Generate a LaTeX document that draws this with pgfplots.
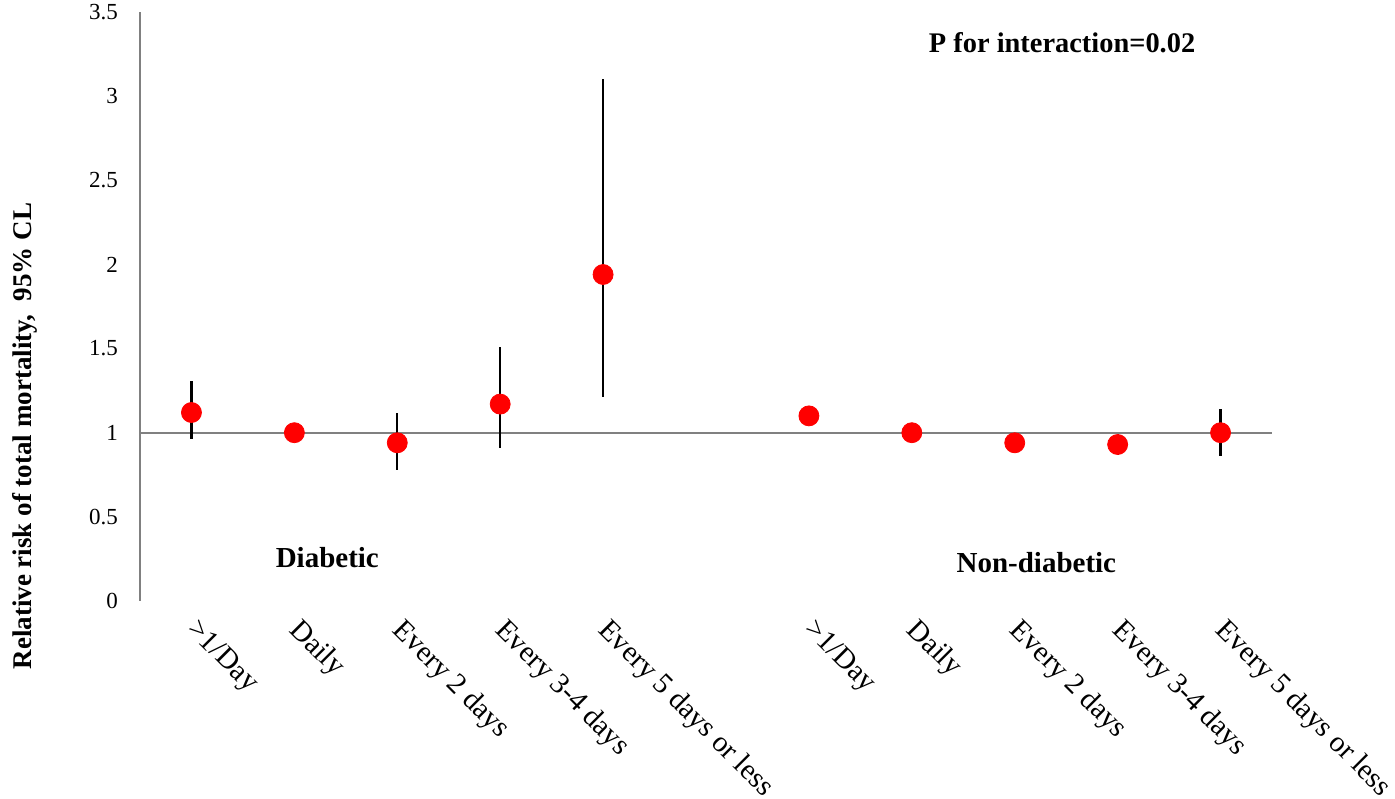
\documentclass[border=0pt]{standalone}
\usepackage{fontspec}
\setmainfont{Liberation Serif}
\usepackage{pgfplots}
\pgfplotsset{compat=1.18}
\usepackage{pgfplotstable}

% x: category position (6 is the gap between groups), y: relative risk,
% ep/em: distance to upper/lower 95% limit
\pgfplotstableread{
x  y     ep    em
1  1.12  0.19  0.16
2  1.00  0.00  0.00
3  0.94  0.18  0.16
4  1.17  0.34  0.26
5  1.94  1.16  0.73
7  1.10  0.05  0.05
8  1.00  0.00  0.00
9  0.94  0.04  0.04
10 0.93  0.06  0.06
11 1.00  0.14  0.14
}\rrdata

\begin{document}
\begin{tikzpicture}
  \begin{axis}[
    name=ax,
    scale only axis,
    width=566pt, height=294.5pt,
    xmin=0.5, xmax=11.5,
    ymin=0, ymax=3.5,
    axis lines*=left,
    x axis line style={draw=none},
    y axis line style={draw=gray, line width=0.8pt},
    major tick length=0pt,
    tick style={draw=none},
    ytick={0,0.5,...,3.5},
    xtick={1,2,3,4,5,7,8,9,10,11},
    xticklabels={>1/Day, Daily, Every 2 days, Every 3-4 days, Every 5 days or less,
                 >1/Day, Daily, Every 2 days, Every 3-4 days, Every 5 days or less},
    % shifts act in the rotated frame of the label
    xticklabel style={rotate=-45, anchor=north west, inner sep=0pt,
                      font=\fontsize{14.6}{16}\selectfont, yshift=-2.4pt, xshift=8.4pt},
    yticklabel style={/pgf/number format/assume math mode=true,
                      font=\fontsize{11.5}{12}\selectfont, xshift=-7.5pt},
    ylabel={Relative risk of total mortality,\ \ 95\% CL},
    every axis y label/.style={at={(axis description cs:-0.102,0.28)},
                      rotate=90, anchor=center,
                      font=\bfseries\fontsize{13.5}{14}\selectfont},
    clip=false,
  ]
    % reference line at RR = 1
    \addplot[gray, line width=0.8pt, forget plot] coordinates {(0.5,1) (11.5,1)};

    % confidence limits
    \addplot[only marks, mark=none, forget plot,
      error bars/.cd, y dir=both, y explicit, error mark=none,
      error bar style={draw=black, line width=1.1pt}]
      table[x=x, y=y, y error plus=ep, y error minus=em] {\rrdata};

    % point estimates
    \addplot[only marks, mark=*, mark size=5pt,
      mark options={fill=red, draw=red}]
      table[x=x, y=y] {\rrdata};

    \node[font=\bfseries\fontsize{14.5}{15}\selectfont] at (axis cs:2.32,0.26) {Diabetic};
    \node[font=\bfseries\fontsize{14.5}{15}\selectfont] at (axis cs:9.21,0.226) {Non-diabetic};
    \node[font=\bfseries\fontsize{14.2}{15}\selectfont] at (axis cs:9.46,3.315) {P for interaction=0.02};
  \end{axis}
  \pgfresetboundingbox
  \path ([shift={(-70pt,-99pt)}]ax.south west) rectangle ([shift={(61.5pt,6pt)}]ax.north east);
\end{tikzpicture}
\end{document}
